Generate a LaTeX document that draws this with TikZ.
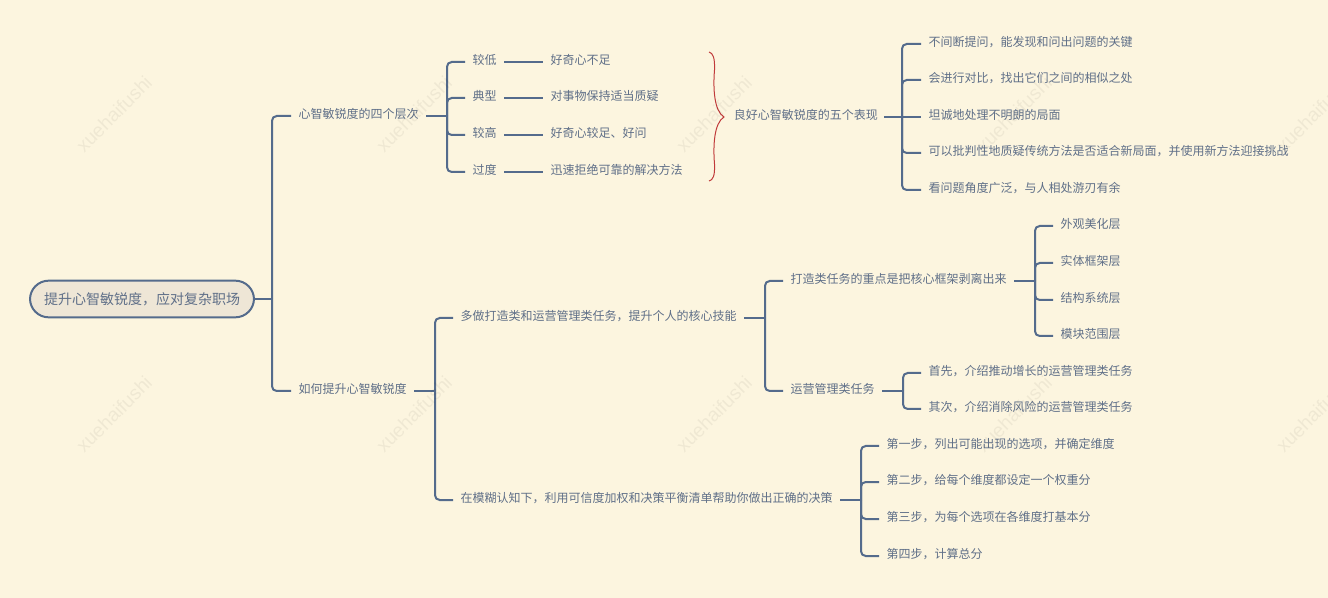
\documentclass[tikz,border=0pt]{standalone}
\usepackage{fontspec}
\setmainfont{Noto Sans CJK SC}
\newfontfamily\markfont{Liberation Sans}
\usepackage{xcolor}
\definecolor{paper}{HTML}{FCF5DF}
\definecolor{rootfill}{HTML}{EEE6D6}
\definecolor{inkline}{HTML}{546B8C}
\definecolor{inktext}{HTML}{5F6F88}
\definecolor{bracered}{HTML}{C03A3A}
\tikzset{
    topic/.style={anchor=west, text=inktext, font=\fontsize{9pt}{11pt}\selectfont,
        inner xsep=5.5pt, inner ysep=0pt, text height=8pt, text depth=4pt},
    rootnode/.style={draw=inkline, fill=rootfill, line width=1.5pt, rounded corners=14pt,
        text=inktext, font=\fontsize{10.5pt}{12pt}\selectfont, minimum width=168pt,
        minimum height=27.5pt, inner sep=0pt},
    link/.style={draw=inkline, line width=1.5pt, rounded corners=3.5pt},
    stub/.style={draw=inkline, line width=1.6pt},
    thickstub/.style={draw=inkline, line width=2.1pt},
    wmark/.style={text=black, text opacity=.05, font=\markfont\fontsize{14.5pt}{15pt}\selectfont,
        rotate=45, inner sep=0pt}
}

\begin{document}
\begin{tikzpicture}[x=0.75pt, y=-0.75pt]
    \useasboundingbox (0,0) rectangle (1328,598);
    \fill[paper] (0,0) rectangle (1328,598);

    \node[rootnode] (Root) at (142,299) {提升心智敏锐度，应对复杂职场};

    \node[topic] (Levels) at (291,116) {心智敏锐度的四个层次};
    \node[topic] (Improve) at (291,391) {如何提升心智敏锐度};

    \node[topic] (Low) at (465,62) {较低};
    \node[topic] (Typical) at (465,98) {典型};
    \node[topic] (High) at (465,135) {较高};
    \node[topic] (Excess) at (465,172) {过度};
    \node[topic] (LowA) at (543,62) {好奇心不足};
    \node[topic] (TypicalA) at (543,98) {对事物保持适当质疑};
    \node[topic] (HighA) at (543,135) {好奇心较足、好问};
    \node[topic] (ExcessA) at (543,172) {迅速拒绝可靠的解决方法};

    \node[topic, inner xsep=4.5pt] (Good) at (727.5,117) {良好心智敏锐度的五个表现};
    \node[topic] (GoodA) at (921,44) {不间断提问，能发现和问出问题的关键};
    \node[topic] (GoodB) at (921,80) {会进行对比，找出它们之间的相似之处};
    \node[topic] (GoodC) at (921,117) {坦诚地处理不明朗的局面};
    \node[topic] (GoodD) at (921,153) {可以批判性地质疑传统方法是否适合新局面，并使用新方法迎接挑战};
    \node[topic] (GoodE) at (921,190) {看问题角度广泛，与人相处游刃有余};

    \node[topic] (Build) at (453,318) {多做打造类和运营管理类任务，提升个人的核心技能};
    \node[topic] (Frame) at (783,281) {打造类任务的重点是把核心框架剥离出来};
    \node[topic] (Operate) at (783,391) {运营管理类任务};
    \node[topic] (FrameA) at (1053,226) {外观美化层};
    \node[topic] (FrameB) at (1053,263) {实体框架层};
    \node[topic] (FrameC) at (1053,300) {结构系统层};
    \node[topic] (FrameD) at (1053,336) {模块范围层};
    \node[topic] (OperateA) at (921,373) {首先，介绍推动增长的运营管理类任务};
    \node[topic] (OperateB) at (921,409) {其次，介绍消除风险的运营管理类任务};

    \node[topic] (Fuzzy) at (453,500) {在模糊认知下，利用可信度加权和决策平衡清单帮助你做出正确的决策};
    \node[topic] (StepA) at (879,446) {第一步，列出可能出现的选项，并确定维度};
    \node[topic] (StepB) at (879,482) {第二步，给每个维度都设定一个权重分};
    \node[topic] (StepC) at (879,519) {第三步，为每个选项在各维度打基本分};
    \node[topic] (StepD) at (879,556) {第四步，计算总分};

    % junctions on the trunks
    \coordinate (RootJ) at (272,299);
    \coordinate (LevelsJ) at (447,116);
    \coordinate (GoodJ) at (902,117);
    \coordinate (ImproveJ) at (435,391);
    \coordinate (BuildJ) at (765,318);
    \coordinate (FrameJ) at (1035,281);
    \coordinate (OperateJ) at (903,391);
    \coordinate (FuzzyJ) at (861,500);

    \draw[thickstub] (Root.east) -- (RootJ);
    \draw[link] (RootJ) |- (Levels.west);
    \draw[link] (RootJ) |- (Improve.west);

    \draw[stub] (Levels.east) -- (LevelsJ);
    \draw[link] (LevelsJ) |- (Low.west);
    \draw[link] (LevelsJ) |- (Typical.west);
    \draw[link] (LevelsJ) |- (High.west);
    \draw[link] (LevelsJ) |- (Excess.west);
    \draw[stub] (Low.east) -- (LowA.west);
    \draw[stub] (Typical.east) -- (TypicalA.west);
    \draw[stub] (High.east) -- (HighA.west);
    \draw[stub] (Excess.east) -- (ExcessA.west);

    \draw[stub] (Good.east) -- (GoodJ);
    \draw[link] (GoodJ) |- (GoodA.west);
    \draw[link] (GoodJ) |- (GoodB.west);
    \draw[stub] (GoodJ) -- (GoodC.west);
    \draw[link] (GoodJ) |- (GoodD.west);
    \draw[link] (GoodJ) |- (GoodE.west);

    \draw[stub] (Improve.east) -- (ImproveJ);
    \draw[link] (ImproveJ) |- (Build.west);
    \draw[link] (ImproveJ) |- (Fuzzy.west);

    \draw[stub] (Build.east) -- (BuildJ);
    \draw[link] (BuildJ) |- (Frame.west);
    \draw[link] (BuildJ) |- (Operate.west);

    \draw[thickstub] (Frame.east) -- (FrameJ);
    \draw[link] (FrameJ) |- (FrameA.west);
    \draw[link] (FrameJ) |- (FrameB.west);
    \draw[link] (FrameJ) |- (FrameC.west);
    \draw[link] (FrameJ) |- (FrameD.west);

    \draw[stub] (Operate.east) -- (OperateJ);
    \draw[link] (OperateJ) |- (OperateA.west);
    \draw[link] (OperateJ) |- (OperateB.west);

    \draw[thickstub] (Fuzzy.east) -- (FuzzyJ);
    \draw[link] (FuzzyJ) |- (StepA.west);
    \draw[link] (FuzzyJ) |- (StepB.west);
    \draw[link] (FuzzyJ) |- (StepC.west);
    \draw[link] (FuzzyJ) |- (StepD.west);

    % red brace
    \coordinate (BraceTop) at (709,52);
    \coordinate (BraceBot) at (709,181);
    \draw[bracered, line width=0.75pt] (BraceTop) .. controls (713,53) and (715,58) .. (714.5,70)
        .. controls (713,88) and (714,111) .. (724,117)
        .. controls (714,123) and (713,146) .. (714.5,164)
        .. controls (715,176) and (713,180) .. (BraceBot);

    % watermark
    \foreach \wx [count=\wi] in {114,414,714,1014,1314} {
        \node[wmark] (MarkA\wi) at (\wx,114) {xuehaifushi};
        \node[wmark] (MarkB\wi) at (\wx,414) {xuehaifushi};
    }
\end{tikzpicture}
\end{document}
